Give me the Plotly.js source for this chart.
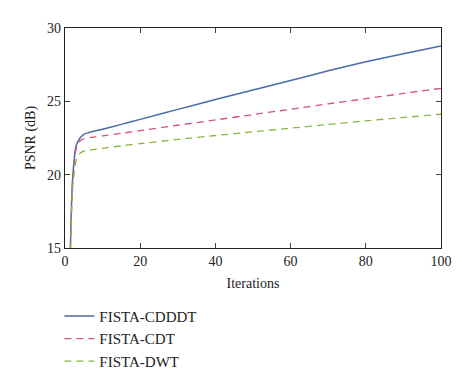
<!DOCTYPE html>
<html>
<head>
<meta charset="utf-8">
<script src="https://cdn.plot.ly/plotly-3.0.1.min.js"></script>
<style>html,body{margin:0;padding:0;background:#fff;}#chart{width:474px;height:382px;}</style>
</head>
<body>
<div id="chart"></div>
<script>
const iterations = [1, 2, 3, 4, 5, 6, 8, 10, 15, 20, 30, 40, 50, 60, 70, 80, 90, 100];
const cdddt = [10.0, 19.6, 22.0, 22.5, 22.75, 22.85, 22.98, 23.1, 23.43, 23.77, 24.45, 25.12, 25.78, 26.42, 27.08, 27.7, 28.25, 28.77];
const cdt   = [10.0, 19.4, 21.8, 22.3, 22.45, 22.5, 22.57, 22.64, 22.82, 23.0, 23.37, 23.73, 24.1, 24.46, 24.83, 25.18, 25.54, 25.89];
const dwt   = [10.0, 19.0, 21.0, 21.45, 21.6, 21.65, 21.72, 21.8, 21.97, 22.12, 22.4, 22.67, 22.92, 23.17, 23.42, 23.67, 23.9, 24.12];
const names = ['FISTA-CDDDT', 'FISTA-CDT', 'FISTA-DWT'];

const FONT = 'Liberation Serif, Times New Roman, serif';
const traces = [
  {x: iterations, y: cdddt, name: names[0], mode: 'lines', line: {color: '#4a6aa8', width: 1.5, shape: 'spline', smoothing: 0.6}},
  {x: iterations, y: cdt, name: names[1], mode: 'lines', line: {color: '#d4527c', width: 1.3, dash: '7px,5px', shape: 'spline', smoothing: 0.6}},
  {x: iterations, y: dwt, name: names[2], mode: 'lines', line: {color: '#86b83c', width: 1.3, dash: '7px,5px', shape: 'spline', smoothing: 0.6}}
];
const layout = {
  width: 474, height: 382,
  margin: {l: 65, r: 33, t: 28, b: 0},
  paper_bgcolor: '#fff', plot_bgcolor: '#fff',
  font: {family: FONT, size: 14, color: '#222'},
  showlegend: true,
  legend: {x: -0.015, xanchor: 'left', y: 0.232, yanchor: 'top', orientation: 'v',
           font: {family: FONT, size: 15, color: '#222'}, bgcolor: 'rgba(0,0,0,0)', tracegroupgap: 0},
  xaxis: {range: [0, 100], tickvals: [0, 20, 40, 60, 80, 100], ticks: 'inside', ticklen: 5,
          showline: true, linecolor: '#222', linewidth: 1.3, mirror: 'ticks', showgrid: false, zeroline: false,
          tickfont: {family: FONT, size: 14}, title: {text: 'Iterations', font: {family: FONT, size: 14}, standoff: 10}},
  yaxis: {range: [15, 30], domain: [0.3785, 1], tickvals: [15, 20, 25, 30], ticks: 'inside', ticklen: 5,
          showline: true, linecolor: '#222', linewidth: 1.3, mirror: 'ticks', showgrid: false, zeroline: false,
          tickfont: {family: FONT, size: 14}, title: {text: 'PSNR (dB)', font: {family: FONT, size: 14}, standoff: 8}}
};
Plotly.newPlot('chart', traces, layout, {displayModeBar: false, staticPlot: true});
</script>
</body>
</html>
